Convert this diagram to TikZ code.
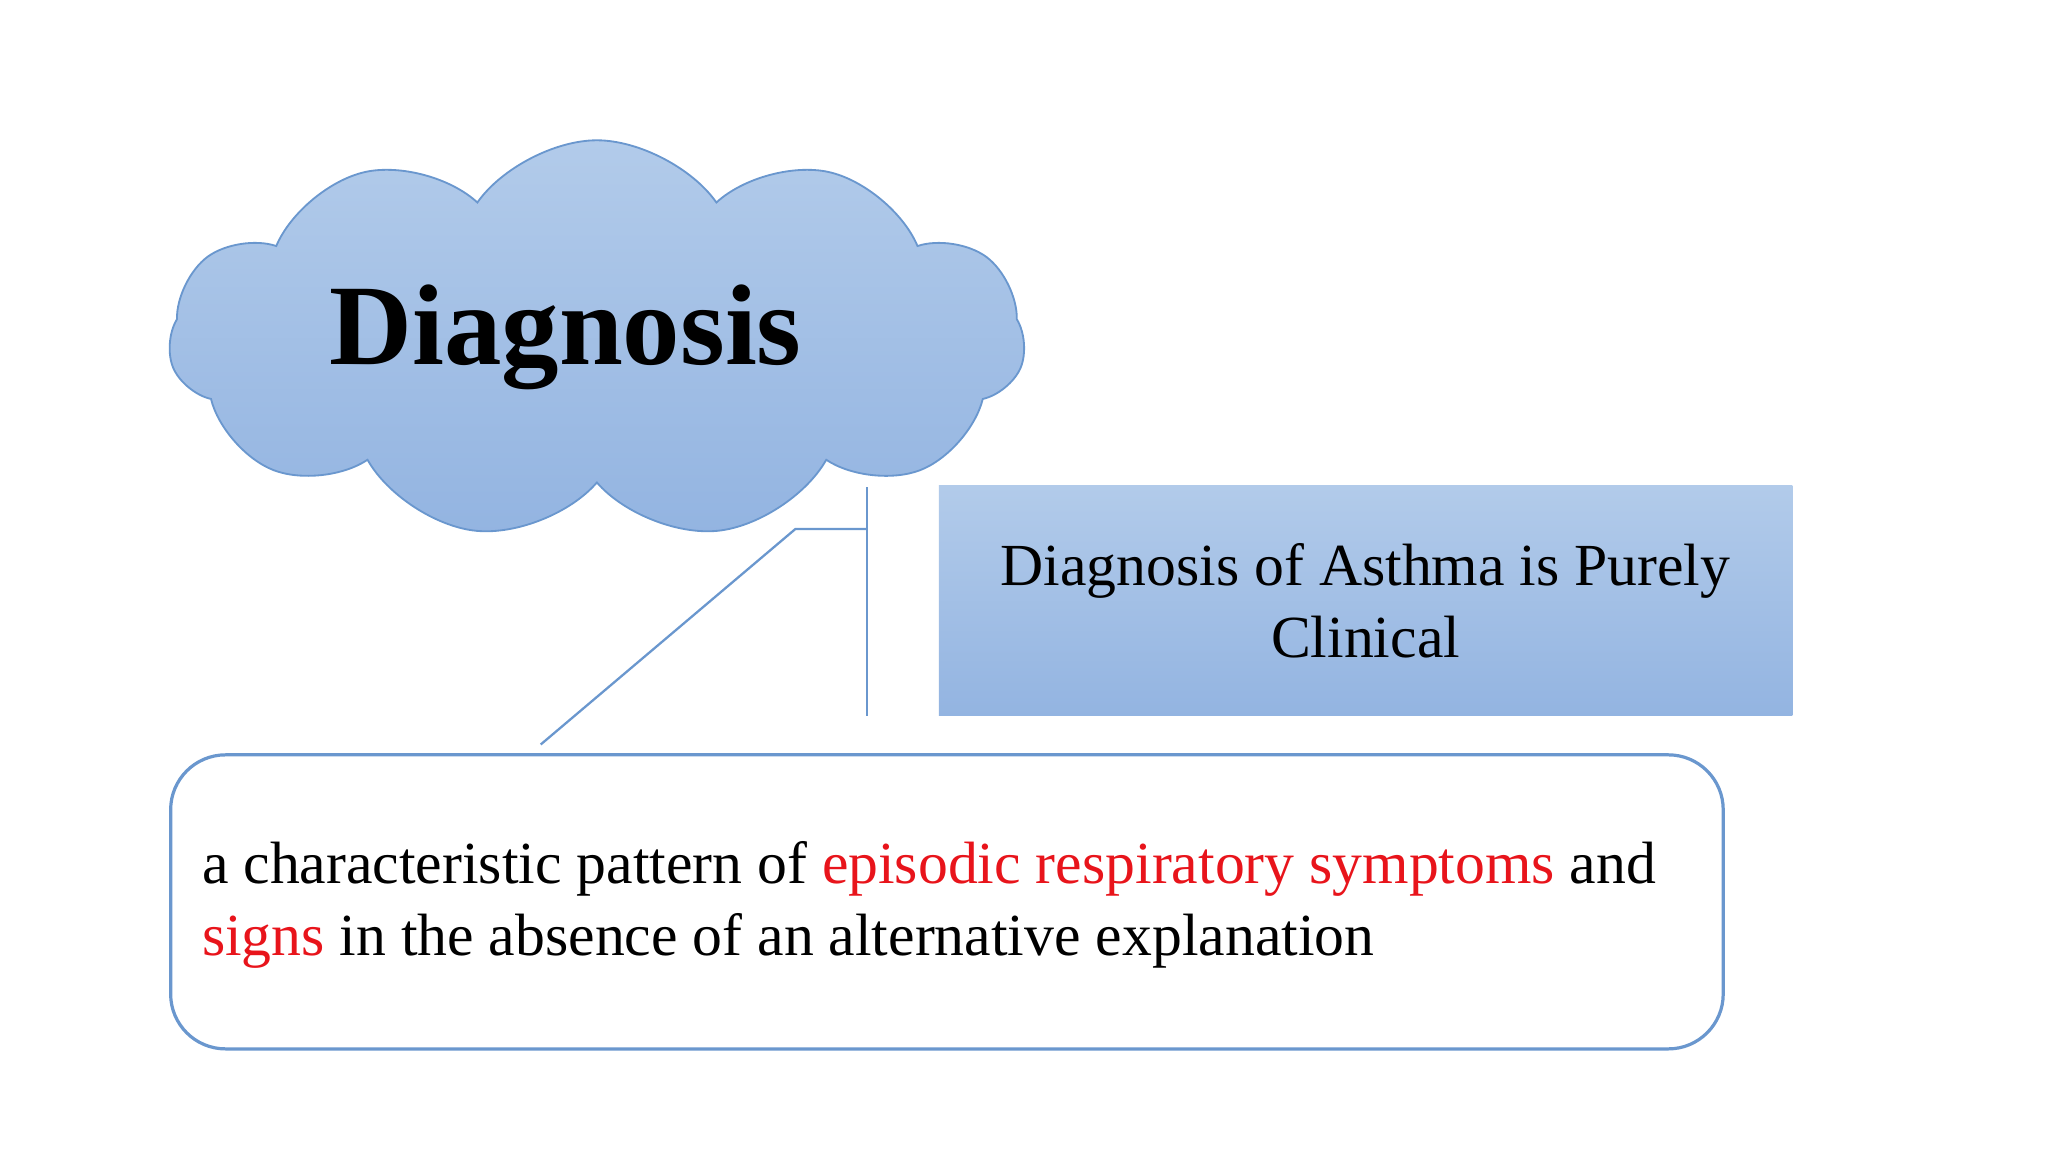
\documentclass[tikz,border=0pt]{standalone}
\usepackage{fontspec}
\setmainfont{Liberation Serif}
\usetikzlibrary{shapes.symbols}
\definecolor{edge}{HTML}{6A97CE}
\definecolor{ltop}{HTML}{B2CBEA}
\definecolor{lbot}{HTML}{93B4E1}
\definecolor{red1}{HTML}{E8141B}
\tikzset{
  blueshade/.style={top color=ltop,bottom color=lbot},
  callout/.style={draw=edge,line width=0.5pt},
}
\begin{document}
\begin{tikzpicture}[x=0.01cm,y=-0.01cm]
\useasboundingbox (0,0) rectangle (1568,882);
\node[cloud,cloud puffs=11,cloud puff arc=110,aspect=2.2,draw=edge,blueshade,minimum width=655\pgflinewidth*0+6.55cm,minimum height=3.05cm,inner sep=0pt] (cloud) at (457,260) {};
\node[font=\fontsize{25}{30}\selectfont\bfseries] (ctitle) at (433,258) {Diagnosis};
\node[blueshade,draw=none,minimum width=6.53cm,minimum height=1.76cm,align=center,font=\fontsize{13}{15.6}\selectfont,inner sep=0pt] (rect) at (1045.5,460) {Diagnosis of Asthma is Purely\\Clinical};
\node[draw=edge,rounded corners=0.42cm,minimum width=11.88cm,minimum height=2.25cm,line width=0.7pt] (box) at (725,690.5) {};
\node[anchor=west,align=left,font=\fontsize{13}{15.6}\selectfont,inner sep=0pt] (btext) at (154,693) {a characteristic pattern of \textcolor{red1}{episodic respiratory symptoms} and\\\textcolor{red1}{signs} in the absence of an alternative explanation};
\coordinate (c1) at (414,570);
\coordinate (c2) at (609,405);
\coordinate (c3) at (664,405);
\coordinate (v1) at (664,373);
\coordinate (v2) at (664,548);
\draw[callout] (c1) -- (c2) -- (c3);
\draw[callout] (v1) -- (v2);
\end{tikzpicture}
\end{document}
